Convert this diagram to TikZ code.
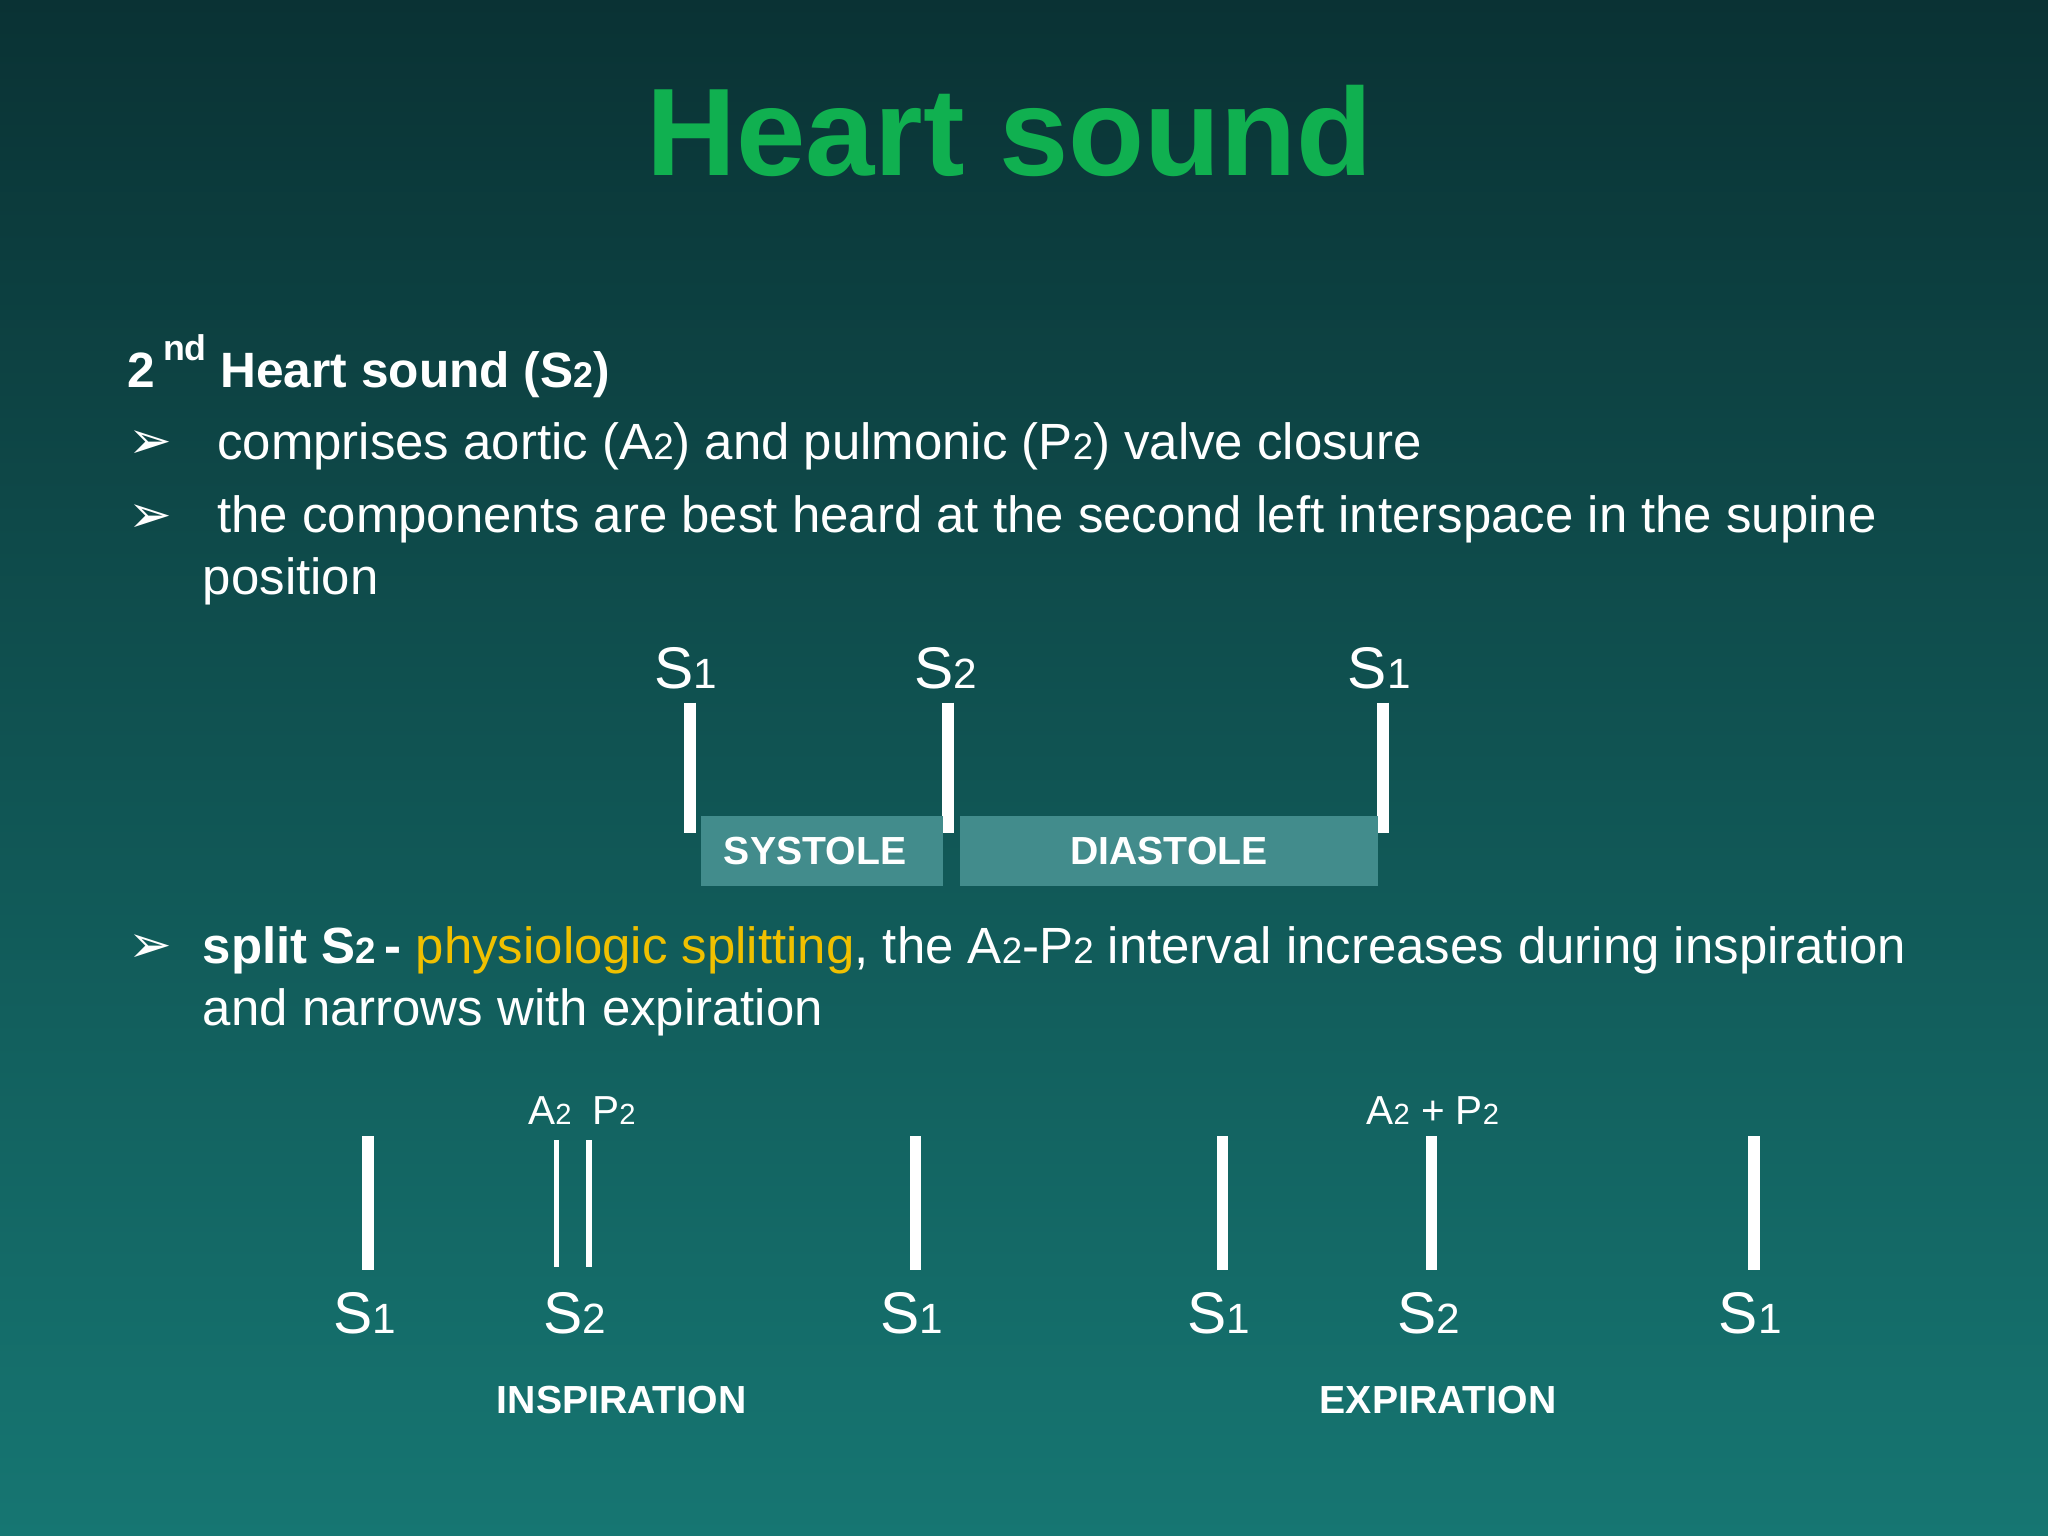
\documentclass[tikz,border=0pt]{standalone}
\usepackage{fontspec}
\setmainfont{Liberation Sans}
\newfontfamily\dv{DejaVu Sans}
\newcommand\subn[1]{\scalebox{0.72}{#1}}
\definecolor{ttl}{HTML}{10B050}
\definecolor{ylw}{HTML}{F0C000}
\definecolor{boxc}{HTML}{428C8C}
\begin{document}
\begin{tikzpicture}[x=0.5pt,y=-0.5pt,
  txt/.style={text=white,inner sep=0,anchor=base west,font=\fontsize{19.5}{23}\selectfont},
  slab/.style={text=white,inner sep=0,anchor=base,font=\fontsize{22.5}{26}\selectfont},
  small/.style={text=white,inner sep=0,anchor=base,font=\fontsize{15.5}{18}\selectfont},
  caplab/.style={text=white,inner sep=0,anchor=base,font=\fontsize{15}{18}\bfseries\selectfont},
  bar/.style={white,line width=4.5pt},
  thin/.style={white,line width=2pt},
  bx/.style={fill=boxc,draw=none}]
\shade[top color={rgb,255:red,10;green,50;blue,52},bottom color={rgb,255:red,22;green,118;blue,114}] (0,0) rectangle (1568,1176);
\useasboundingbox (0,0) rectangle (1568,1176);
\node[text=ttl,inner sep=0,anchor=base,font=\fontsize{47.7}{55}\bfseries\selectfont] (title) at (773,134) {Heart sound};
\node[txt,font=\fontsize{19}{23}\bfseries\selectfont] (h) at (97,297) {2\,\raisebox{0.55em}{\subn{nd}} Heart sound (S\subn{2})};
\node[txt,font=\dv\fontsize{20}{20}\selectfont] (b1) at (98,351) {➢};
\node[txt] (t1) at (166,352) {comprises aortic (A\subn{2}) and pulmonic (P\subn{2}) valve closure};
\node[txt,font=\dv\fontsize{20}{20}\selectfont] (b2) at (98,408) {➢};
\node[txt] (t2) at (166,408) {the components are best heard at the second left interspace in the supine};
\node[txt] (t2b) at (155,455) {position};
% diagram 1
\node[slab] (a1) at (525,527) {S\subn{1}};
\node[slab] (a2) at (724,527) {S\subn{2}};
\node[slab] (a3) at (1056,527) {S\subn{1}};
\draw[bar] (528,538) -- (528,638);
\draw[bar] (726,538) -- (726,638);
\draw[bar] (1059,538) -- (1059,638);
\fill[bx] (537,625) rectangle (722,678);
\fill[bx] (735,625) rectangle (1055,678);
\node[caplab] (sys) at (624,662) {SYSTOLE};
\node[caplab] (dia) at (895,662) {DIASTOLE};
% bullet 3
\node[txt,font=\dv\fontsize{20}{20}\selectfont] (b3) at (98,737) {➢};
\node[txt] (t3) at (155,738) {\textbf{split S\subn{2}\,-} \textcolor{ylw}{physiologic splitting}, the A\subn{2}-P\subn{2} interval increases during inspiration};
\node[txt] (t3b) at (155,785) {and narrows with expiration};
% bottom
\draw[bar] (282,870) -- (282,972);
\draw[thin] (426,873) -- (426,970);
\draw[thin] (451,873) -- (451,970);
\draw[bar] (701,870) -- (701,972);
\draw[bar] (936,870) -- (936,972);
\draw[bar] (1096,870) -- (1096,972);
\draw[bar] (1343,870) -- (1343,972);
\node[small] (la2) at (421,861) {A\subn{2}};
\node[small] (lp2) at (470,861) {P\subn{2}};
\node[small] (lap) at (1097,861) {A\subn{2} + P\subn{2}};
\node[slab] (c1) at (279,1021) {S\subn{1}};
\node[slab] (c2) at (440,1021) {S\subn{2}};
\node[slab] (c3) at (698,1021) {S\subn{1}};
\node[slab] (c4) at (933,1021) {S\subn{1}};
\node[slab] (c5) at (1094,1021) {S\subn{2}};
\node[slab] (c6) at (1340,1021) {S\subn{1}};
\node[caplab] (insp) at (476,1082) {INSPIRATION};
\node[caplab] (exp) at (1101,1082) {EXPIRATION};
\end{tikzpicture}
\end{document}
